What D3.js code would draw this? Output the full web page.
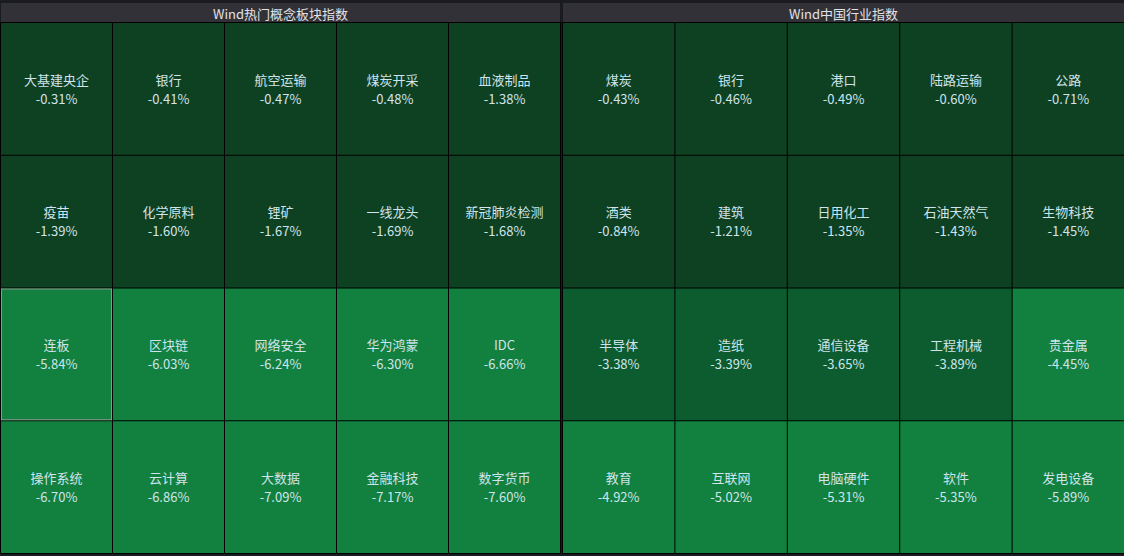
<!DOCTYPE html>
<html><head><meta charset="utf-8">
<script src="https://cdn.jsdelivr.net/npm/d3@7"></script>
<style>html,body{margin:0;padding:0;background:#1a1b1f;}svg{display:block;}</style>
</head><body>
<svg id="c" width="1124" height="556"></svg>
<script>
const panelTitles = ["Wind热门概念板块指数", "Wind中国行业指数"];
const conceptNames = ["大基建央企","银行","航空运输","煤炭开采","血液制品",
  "疫苗","化学原料","锂矿","一线龙头","新冠肺炎检测",
  "连板","区块链","网络安全","华为鸿蒙","IDC",
  "操作系统","云计算","大数据","金融科技","数字货币"];
const conceptValues = [-0.31,-0.41,-0.47,-0.48,-1.38,
  -1.39,-1.60,-1.67,-1.69,-1.68,
  -5.84,-6.03,-6.24,-6.30,-6.66,
  -6.70,-6.86,-7.09,-7.17,-7.60];
const industryNames = ["煤炭","银行","港口","陆路运输","公路",
  "酒类","建筑","日用化工","石油天然气","生物科技",
  "半导体","造纸","通信设备","工程机械","贵金属",
  "教育","互联网","电脑硬件","软件","发电设备"];
const industryValues = [-0.43,-0.46,-0.49,-0.60,-0.71,
  -0.84,-1.21,-1.35,-1.43,-1.45,
  -3.38,-3.39,-3.65,-3.89,-4.45,
  -4.92,-5.02,-5.31,-5.35,-5.89];
const highlighted = ["连板"];

const svg = d3.select("#c");
const color = d3.scaleThreshold().domain([-4, -2]).range(["#12803f", "#0d5c2f", "#0e4022"]);
const nCols = 5, nRows = 4;
const rowScale = d3.scaleBand().domain(d3.range(nRows)).range([23, 554]);

const panels = [
  {title: panelTitles[0], names: conceptNames, values: conceptValues, x0: 1, x1: 561},
  {title: panelTitles[1], names: industryNames, values: industryValues, x0: 563, x1: 1125}
];

svg.append("rect").attr("x",0).attr("y",0).attr("width",1124).attr("height",556).attr("fill","#1a1b1f");

panels.forEach(p => {
  const g = svg.append("g");
  const colScale = d3.scaleBand().domain(d3.range(nCols)).range([p.x0, p.x1]);
  g.append("rect").attr("x", p.x0).attr("y", 3).attr("width", p.x1 - p.x0 - 1).attr("height", 20).attr("fill", "#323137");
  g.append("text").attr("x", (p.x0 + p.x1 - 1) / 2).attr("y", 13).attr("text-anchor","middle")
    .attr("dominant-baseline","central").attr("fill","#e2e2e6")
    .style("font-family","'Noto Sans CJK SC','Noto Sans',sans-serif").style("font-size","13px").text(p.title);
  g.append("rect").attr("x", p.x0 - 1).attr("y", 22).attr("width", p.x1 - p.x0 + 1).attr("height", 532).attr("fill", "#000");
  const data = p.names.map((n, i) => ({name: n, value: p.values[i], r: Math.floor(i / nCols), c: i % nCols}));
  const cells = g.selectAll("g.cell").data(data).join("g").attr("class","cell");
  cells.append("rect")
    .attr("x", d => colScale(d.c))
    .attr("y", d => rowScale(d.r))
    .attr("width", colScale.bandwidth() - 1)
    .attr("height", rowScale.bandwidth() - 1)
    .attr("fill", d => color(d.value));
  cells.filter(d => highlighted.includes(d.name)).append("rect")
    .attr("x", d => colScale(d.c) + 0.5)
    .attr("y", d => rowScale(d.r) + 0.5)
    .attr("width", colScale.bandwidth() - 2)
    .attr("height", rowScale.bandwidth() - 2)
    .attr("fill", "none").attr("stroke", "#8a9a90").attr("stroke-width", 1);
  const cx = d => colScale(d.c) + (colScale.bandwidth() - 1) / 2;
  cells.append("text").attr("x", cx).attr("y", d => rowScale(d.r) + 56)
    .attr("text-anchor","middle").attr("dominant-baseline","central").attr("fill","#cfe4ec")
    .style("font-family","'Noto Sans CJK SC','Noto Sans',sans-serif").style("font-size","13px")
    .text(d => d.name);
  cells.append("text").attr("x", cx).attr("y", d => rowScale(d.r) + 75)
    .attr("text-anchor","middle").attr("dominant-baseline","central").attr("fill","#cfe4ec")
    .style("font-family","'Noto Sans CJK SC','Noto Sans',sans-serif").style("font-size","13px")
    .text(d => d.value.toFixed(2) + "%");
});
</script>
</body></html>
